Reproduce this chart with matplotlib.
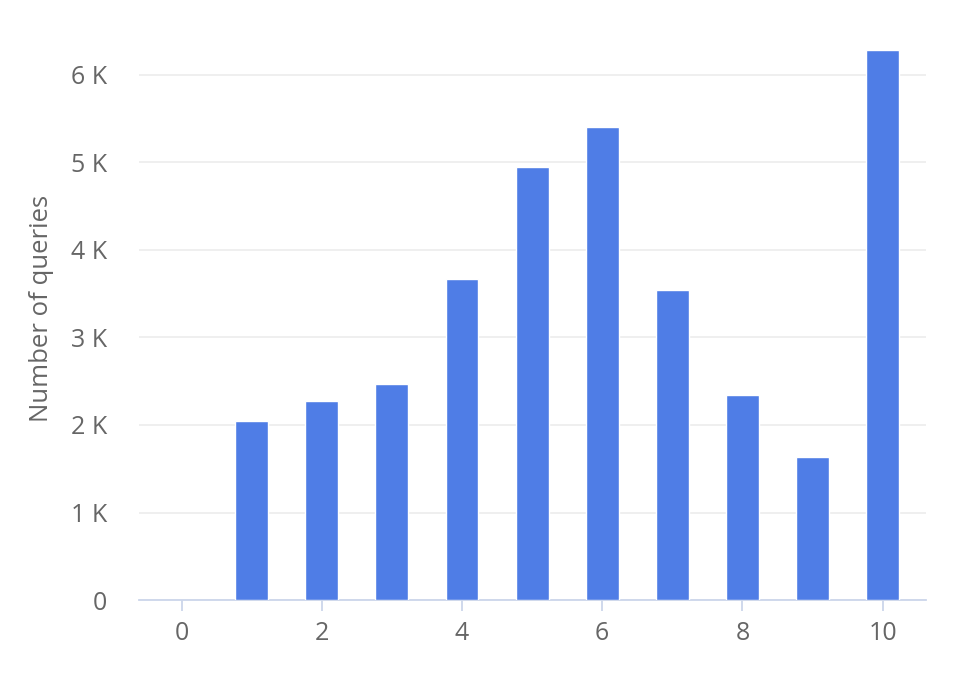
import matplotlib.pyplot as plt
from matplotlib.ticker import FuncFormatter

plt.rcParams['font.family'] = ['Open Sans', 'DejaVu Sans']

# данные
scores = [1, 2, 3, 4, 5, 6, 7, 8, 9, 10]
queries = [2045, 2275, 2470, 3665, 4945, 5410, 3545, 2345, 1635, 6290]

fig = plt.figure(figsize=(9.77, 6.83), dpi=100)
ax = fig.add_axes([0.142, 0.1215, 0.806, 0.82])

ax.bar(scores, queries, width=0.47, color='#4f7de6', edgecolor='white', linewidth=1, zorder=3)

ax.set_xlim(-0.61, 10.62)
ax.set_ylim(0, 6400)
ax.set_xticks([0, 2, 4, 6, 8, 10])
ax.set_yticks([0, 1000, 2000, 3000, 4000, 5000, 6000])
ax.yaxis.set_major_formatter(FuncFormatter(lambda v, p: '0' if v == 0 else '%d K' % (v / 1000)))

ax.grid(axis='y', color='#eeeeee', linewidth=1.3, zorder=0)
for s in ['top', 'right', 'left']:
    ax.spines[s].set_visible(False)
ax.spines['bottom'].set_color('#ccd6eb')
ax.spines['bottom'].set_linewidth(1.3)

ax.tick_params(axis='x', colors='#ccd6eb', length=8, width=1.3, labelcolor='#666666', labelsize=18, pad=7)
ax.tick_params(axis='y', length=0, labelcolor='#666666', labelsize=18, pad=23)
ax.set_ylabel('Number of queries', color='#666666', fontsize=18.5, labelpad=12, y=0.52)

fig.savefig('out.png', dpi=100)
